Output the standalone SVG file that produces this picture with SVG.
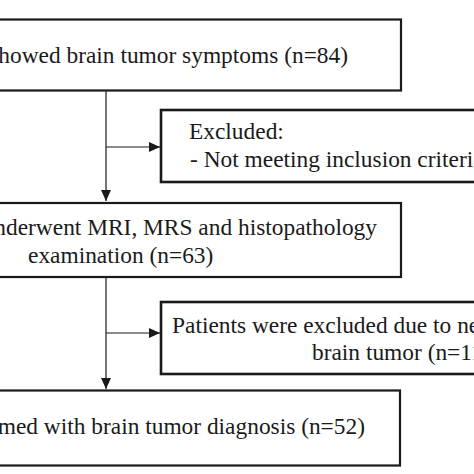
<svg xmlns="http://www.w3.org/2000/svg" width="474" height="474" viewBox="0 0 474 474">
<style>
.box{fill:#fff;stroke:#1a1a1a;stroke-width:2.2}
.t{font-family:"Liberation Serif","Times New Roman","DejaVu Serif",serif;font-size:23.4px;fill:#1a1a1a}
.ln{stroke:#1a1a1a;stroke-width:1.2;fill:none}
</style>
<defs>
<marker id="ah" markerWidth="12" markerHeight="10" refX="11" refY="5" orient="auto" markerUnits="userSpaceOnUse">
<path d="M0,0 L11,5 L0,10 Z" fill="#1a1a1a"/>
</marker>
</defs>
<rect width="474" height="474" fill="#fff"/>
<g id="connectors">
<line class="ln" x1="106" y1="90" x2="106" y2="201" marker-end="url(#ah)"/>
<line class="ln" x1="106" y1="147" x2="160" y2="147" marker-end="url(#ah)"/>
<line class="ln" x1="106" y1="277" x2="106" y2="389" marker-end="url(#ah)"/>
<line class="ln" x1="106" y1="333" x2="160" y2="333" marker-end="url(#ah)"/>
</g>
<g id="n1">
<rect class="box" x="-10" y="19.5" width="411" height="71"/>
<text class="t" x="348" y="63" text-anchor="end">howed brain tumor symptoms (n=84)</text>
</g>
<g id="n2">
<rect class="box" x="161" y="110" width="330" height="72" style="stroke-width:2.6"/>
<text class="t" x="189" y="139">Excluded:</text>
<text class="t" x="190" y="167">- Not meeting inclusion criteria</text>
</g>
<g id="n3">
<rect class="box" x="-10" y="203" width="411" height="74"/>
<text class="t" x="377" y="235" text-anchor="end">nderwent MRI, MRS and histopathology</text>
<text class="t" x="28" y="263">examination (n=63)</text>
</g>
<g id="n4">
<rect class="box" x="161" y="302" width="330" height="72" style="stroke-width:2.6"/>
<text class="t" x="172" y="333">Patients were excluded due to ne</text>
<text class="t" x="312" y="360">brain tumor (n=11</text>
</g>
<g id="n5">
<rect class="box" x="-10" y="390.5" width="410" height="75"/>
<text class="t" x="365" y="434" text-anchor="end">rmed with brain tumor diagnosis (n=52)</text>
</g>
</svg>
